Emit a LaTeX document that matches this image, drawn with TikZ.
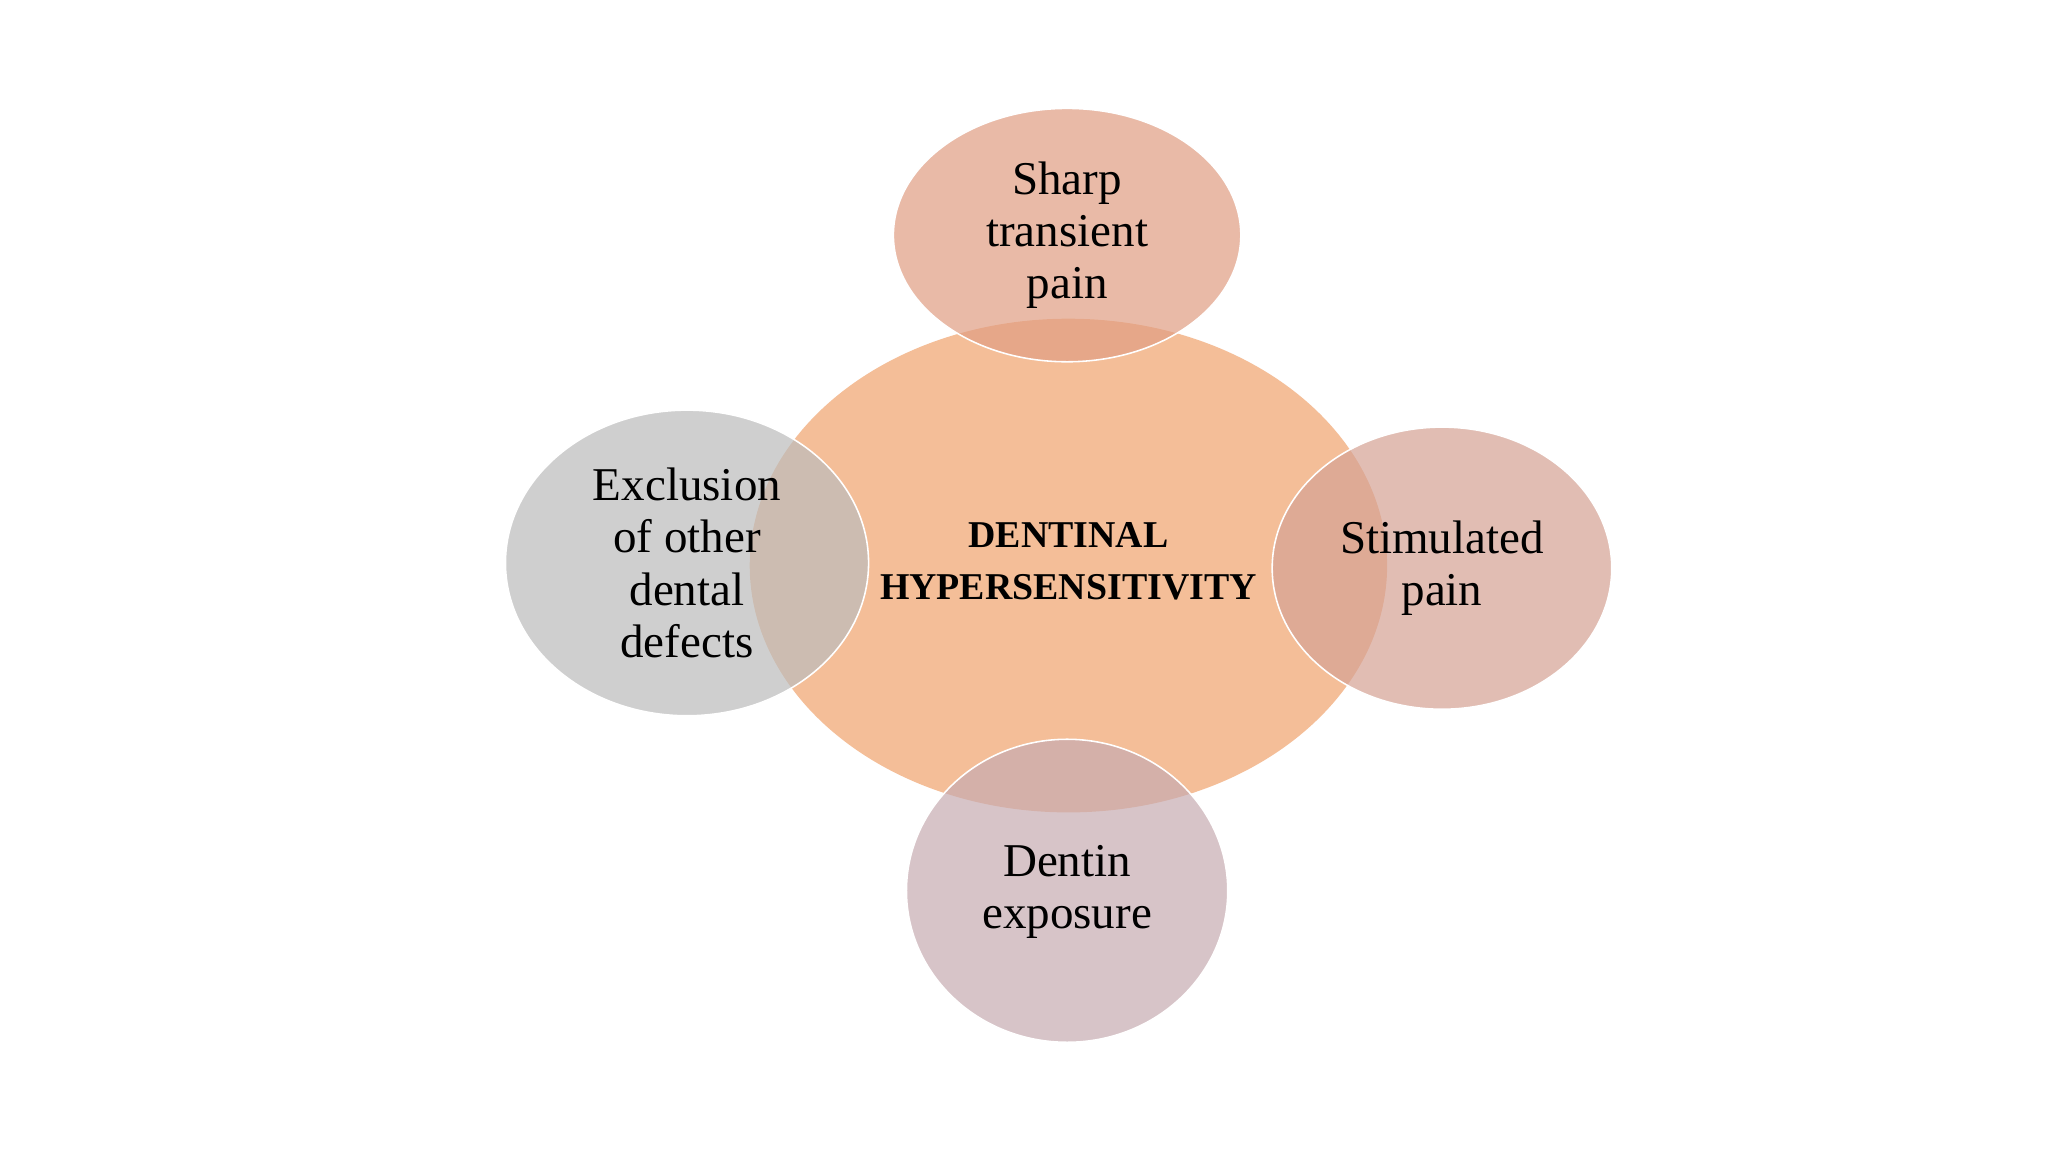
\documentclass[tikz,border=0pt]{standalone}
\usepackage{fontspec}
\setmainfont{Liberation Serif}
\definecolor{cmain}{RGB}{244,190,152}
\definecolor{ctop}{RGB}{225,158,131}
\definecolor{cleft}{RGB}{188,188,188}
\definecolor{cright}{RGB}{213,162,148}
\definecolor{cbot}{RGB}{199,171,177}
\begin{document}
\begin{tikzpicture}[x=1pt,y=-1pt,
  outer/.style={draw=white,line width=1.2pt,fill opacity=0.7},
  lbl/.style={align=center,font=\fontsize{36}{40}\selectfont,text=black}]
\useasboundingbox[fill=white] (0,0) rectangle (1568,882);
\fill[cmain] (818,433) ellipse [x radius=244,y radius=189];
\filldraw[outer,fill=ctop] (817,180) ellipse [x radius=133,y radius=97];
\filldraw[outer,fill=cright] (1104,435) ellipse [x radius=130,y radius=108];
\filldraw[outer,fill=cbot] (817,682) ellipse [x radius=123,y radius=116];
\filldraw[outer,fill=cleft] (526,431) ellipse [x radius=139,y radius=117];
\node[lbl] (c) at (818,430) {\fontsize{29}{34}\selectfont\bfseries DENTINAL\\\fontsize{29}{34}\selectfont\bfseries HYPERSENSITIVITY};
\node[lbl] (t) at (817,180) {Sharp\\transient\\pain};
\node[lbl] (r) at (1104,435) {Stimulated\\pain};
\node[lbl] (b) at (817,683) {Dentin\\exposure};
\node[lbl] (l) at (526,431) {Exclusion\\of other\\dental\\defects};
\end{tikzpicture}
\end{document}
